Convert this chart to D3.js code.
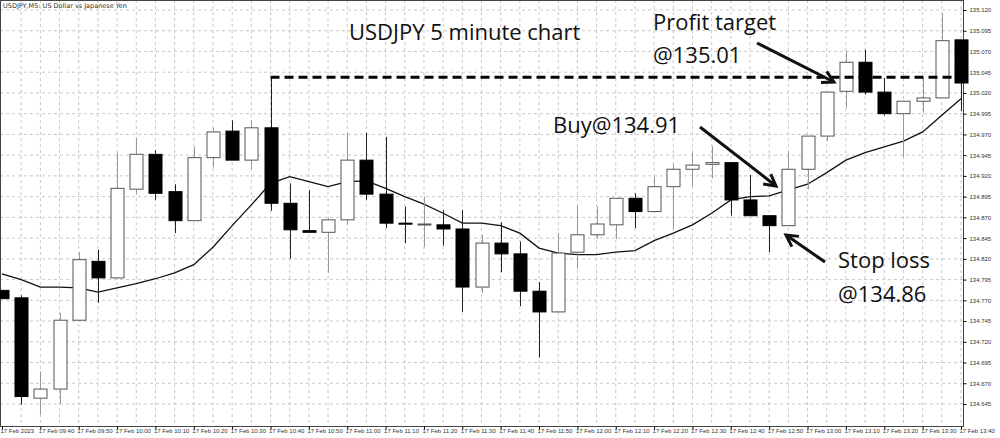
<!DOCTYPE html>
<html><head><meta charset="utf-8">
<script src="https://cdn.jsdelivr.net/npm/d3@7"></script>
<style>body{margin:0;background:#fff}</style>
</head><body>
<script>
// candle data, 5 minute bars from 09:30
const opens  = [134.782,134.773,134.652,134.663,134.746,134.817,134.797,134.904,134.946,134.901,134.866,134.942,134.974,134.939,134.978,134.887,134.854,134.852,134.867,134.939,134.898,134.863,134.862,134.861,134.856,134.786,134.839,134.826,134.781,134.756,134.828,134.849,134.861,134.893,134.877,134.907,134.928,134.934,134.936,134.891,134.872,134.860,134.928,134.968,135.022,135.057,135.021,134.995,135.010,135.014,135.084];
const highs  = [134.782,134.776,134.684,134.755,134.828,134.831,134.948,134.966,134.951,134.910,134.955,134.978,134.987,134.987,135.038,134.911,134.903,134.869,134.972,134.972,134.967,134.883,134.895,134.879,134.879,134.849,134.864,134.841,134.792,134.851,134.884,134.883,134.893,134.899,134.919,134.934,134.948,134.956,134.936,134.921,134.872,134.949,134.968,135.021,135.071,135.072,135.038,135.010,135.038,135.116,135.084];
const lows   = [134.772,134.644,134.632,134.645,134.746,134.767,134.796,134.898,134.891,134.851,134.866,134.930,134.939,134.928,134.878,134.820,134.852,134.803,134.861,134.891,134.857,134.839,134.834,134.836,134.756,134.779,134.804,134.763,134.701,134.756,134.808,134.844,134.844,134.857,134.877,134.856,134.908,134.917,134.872,134.872,134.828,134.860,134.904,134.962,135.002,135.018,134.993,134.943,134.996,135.014,134.998];
const closes = [134.772,134.654,134.663,134.746,134.819,134.797,134.905,134.946,134.899,134.866,134.942,134.973,134.939,134.978,134.887,134.855,134.852,134.867,134.939,134.898,134.863,134.862,134.862,134.856,134.786,134.839,134.826,134.781,134.756,134.827,134.849,134.862,134.893,134.877,134.907,134.928,134.933,134.936,134.891,134.872,134.860,134.928,134.968,135.021,135.057,135.021,134.995,135.010,135.014,135.083,135.032];
const maLine = [134.802,134.795,134.786,134.786,134.785,134.780,134.785,134.790,134.796,134.803,134.813,134.834,134.860,134.885,134.911,134.919,134.913,134.907,134.913,134.914,134.905,134.895,134.886,134.875,134.863,134.863,134.860,134.851,134.833,134.827,134.825,134.825,134.828,134.830,134.842,134.851,134.861,134.875,134.891,134.895,134.896,134.903,134.910,134.924,134.939,134.948,134.955,134.962,134.973,134.993,135.013];
const priceTicks = d3.range(19, -1, -1).map(i => +(134.645 + i * 0.025).toFixed(3));
const timeLabels = ["17 Feb 2023","17 Feb 09:40","17 Feb 09:50","17 Feb 10:00","17 Feb 10:10","17 Feb 10:20","17 Feb 10:30","17 Feb 10:40","17 Feb 10:50","17 Feb 11:00","17 Feb 11:10","17 Feb 11:20","17 Feb 11:30","17 Feb 11:40","17 Feb 11:50","17 Feb 12:00","17 Feb 12:10","17 Feb 12:20","17 Feb 12:30","17 Feb 12:40","17 Feb 12:50","17 Feb 13:00","17 Feb 13:10","17 Feb 13:20","17 Feb 13:30","17 Feb 13:40"];
const targetPrice = 135.039;

const W = 1000, H = 438;
const plotR = 963, plotB = 426;
const svg = d3.select("body").append("svg").attr("width", W).attr("height", H)
  .style("font-family", "DejaVu Sans");

const x = d3.scaleLinear().domain([0, 50]).range([2, 961]);
const y = d3.scaleLinear().domain([134.645, 135.120]).range([404, 10]);

// grid
const grid = svg.append("g").attr("stroke", "#c8c8c8").attr("stroke-dasharray", "3,3").attr("stroke-width", 1);
d3.range(1, 51).forEach(i => grid.append("line").attr("x1", x(i)).attr("x2", x(i)).attr("y1", 0).attr("y2", plotB));
priceTicks.forEach(p => grid.append("line").attr("x1", 0).attr("x2", plotR).attr("y1", y(p)).attr("y2", y(p)));

// frame
svg.append("rect").attr("x", 0.5).attr("y", 0.5).attr("width", plotR).attr("height", plotB)
  .attr("fill", "none").attr("stroke", "#444");

// right axis
const ay = svg.append("g").attr("transform", `translate(${plotR + 0.5},0)`)
  .call(d3.axisRight(y).tickValues(priceTicks).tickFormat(d3.format(".3f")).tickSize(3));
ay.select(".domain").remove();
ay.selectAll("text").attr("font-size", 6).attr("fill", "#333").attr("x", 6).attr("font-family", "Liberation Sans");

// bottom labels
const ax = svg.append("g").attr("transform", `translate(0,${plotB + 0.5})`)
  .call(d3.axisBottom(x).tickValues(d3.range(0, 51, 2)).tickFormat((d, i) => timeLabels[i]).tickSize(3));
ax.select(".domain").remove();
ax.selectAll("text").attr("font-size", 6).attr("fill", "#333").attr("font-family", "Liberation Sans")
  .attr("text-anchor", "start").attr("dx", -2).attr("dy", 0);

// moving average
svg.append("path").datum(maLine)
  .attr("d", d3.line().x((d, i) => x(i)).y(d => y(d)))
  .attr("fill", "none").attr("stroke", "#111").attr("stroke-width", 1.3);

// candles
const bw = 13;
const candles = svg.append("g");
opens.forEach((o, i) => {
  const c = closes[i], up = c >= o;
  const cx = Math.round(x(i)) + 0.5;
  candles.append("line").attr("x1", cx).attr("x2", cx).attr("y1", y(highs[i])).attr("y2", y(lows[i]))
    .attr("stroke", up ? "#999" : "#222");
  const top = y(Math.max(o, c)), h = Math.max(1, Math.abs(y(o) - y(c)));
  candles.append("rect").attr("x", cx - bw / 2).attr("y", top).attr("width", bw).attr("height", h)
    .attr("fill", up ? "#fff" : "#000").attr("stroke", up ? "#555" : "#000").attr("stroke-width", 1);
});

// profit target line
svg.append("line").attr("x1", x(14)).attr("x2", plotR).attr("y1", y(targetPrice)).attr("y2", y(targetPrice))
  .attr("stroke", "#000").attr("stroke-width", 3).attr("stroke-dasharray", "9,5");

// annotations
svg.append("text").attr("x", 3).attr("y", 8).attr("font-size", 6.5).attr("fill", "#333").text("USDJPY,M5:  US Dollar vs Japanese Yen");
const ann = svg.append("g").attr("font-family", "Open Sans").attr("font-size", 22).attr("fill", "#111");
ann.append("text").attr("x", 349).attr("y", 40).text("USDJPY 5 minute chart");
ann.append("text").attr("x", 653).attr("y", 30).text("Profit target");
ann.append("text").attr("x", 653).attr("y", 63).text("@135.01");
ann.append("text").attr("x", 553).attr("y", 133).text("Buy@134.91");
ann.append("text").attr("x", 838).attr("y", 268).text("Stop loss");
ann.append("text").attr("x", 838).attr("y", 302).text("@134.86");

function arrow(x1, y1, x2, y2) {
  const a = Math.atan2(y2 - y1, x2 - x1), L = 13, s = 0.5;
  svg.append("line").attr("x1", x1).attr("y1", y1).attr("x2", x2).attr("y2", y2).attr("stroke", "#111").attr("stroke-width", 3);
  svg.append("path").attr("d", `M${x2 - L * Math.cos(a - s)},${y2 - L * Math.sin(a - s)}L${x2},${y2}L${x2 - L * Math.cos(a + s)},${y2 - L * Math.sin(a + s)}`)
    .attr("fill", "none").attr("stroke", "#111").attr("stroke-width", 3);
}
arrow(757, 43, 834, 82);
arrow(700, 127, 776, 186);
arrow(825, 262, 786, 235);
</script>
</body></html>
